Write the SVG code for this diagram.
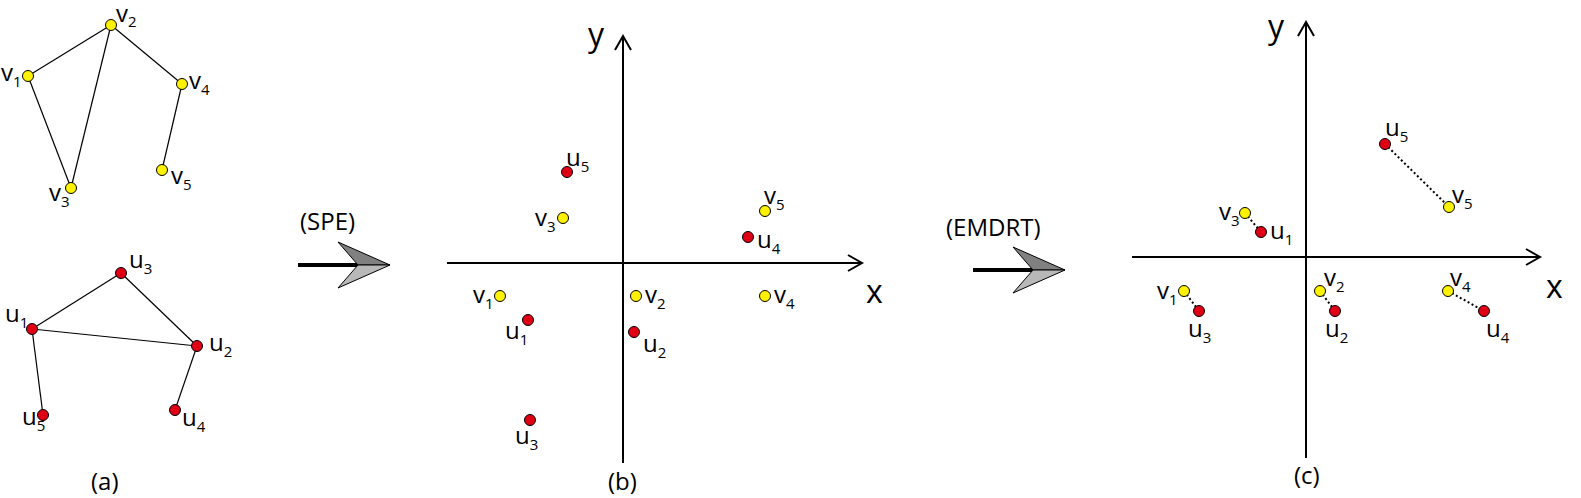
<svg xmlns="http://www.w3.org/2000/svg" width="1581" height="498" viewBox="0 0 1581 498">
<style>
.y{fill:#fff200;stroke:#000;stroke-width:1}
.r{fill:#e00016;stroke:#000;stroke-width:1}
.e{stroke:#000;stroke-width:1.2;fill:none}
.d{stroke:#000;stroke-width:2;stroke-dasharray:2 2.5;fill:none}
.ax{stroke:#000;stroke-width:2;fill:none}
text{font-family:"Open Sans","Liberation Sans",sans-serif;font-size:24px;fill:#000}
.s{font-size:15px}
.big{font-size:32px}
</style>
<defs>
<g id="arr">
<line x1="0" y1="0" x2="60" y2="0" stroke="#000" stroke-width="4"/>
<polygon points="40,-23 92,0 60,0" fill="#808080" stroke="#000" stroke-width="1"/>
<polygon points="40,23 92,0 60,0" fill="#b8b8b8" stroke="#000" stroke-width="1"/>
</g>
</defs>
<g id="connectors">
<line class="e" x1="111" y1="25" x2="28" y2="76"/>
<line class="e" x1="111" y1="25" x2="182" y2="84"/>
<line class="e" x1="111" y1="25" x2="71" y2="188"/>
<line class="e" x1="28" y1="76" x2="71" y2="188"/>
<line class="e" x1="182" y1="84" x2="162" y2="170"/>
<line class="e" x1="121" y1="273" x2="32" y2="329"/>
<line class="e" x1="121" y1="273" x2="197" y2="346"/>
<line class="e" x1="32" y1="329" x2="197" y2="346"/>
<line class="e" x1="32" y1="329" x2="43" y2="415"/>
<line class="e" x1="197" y1="346" x2="175" y2="410"/>
<use href="#arr" x="298" y="265"/>
<use href="#arr" x="973" y="270"/>
<line class="ax" x1="623" y1="463" x2="623" y2="36"/>
<polyline class="ax" points="615,50 623,36 631,50"/>
<line class="ax" x1="447" y1="263" x2="862" y2="263"/>
<polyline class="ax" points="848,255 862,263 848,271"/>
<line class="ax" x1="1306" y1="458" x2="1306" y2="22"/>
<polyline class="ax" points="1298,36 1306,22 1314,36"/>
<line class="ax" x1="1132" y1="257" x2="1540" y2="257"/>
<polyline class="ax" points="1526,249 1540,257 1526,265"/>
<line class="d" x1="1385" y1="144" x2="1449" y2="207"/>
<line class="d" x1="1245" y1="213" x2="1261" y2="232"/>
<line class="d" x1="1184" y1="291" x2="1199" y2="311"/>
<line class="d" x1="1320" y1="291" x2="1335" y2="311"/>
<line class="d" x1="1448" y1="291" x2="1484" y2="311"/>
</g>
<g id="a-v">
<circle class="y" cx="111" cy="25" r="5.5"/><text x="116" y="22">v<tspan class="s" dy="5">2</tspan></text>
<circle class="y" cx="28" cy="76" r="5.5"/><text x="1" y="81">v<tspan class="s" dy="6">1</tspan></text>
<circle class="y" cx="182" cy="84" r="5.5"/><text x="189" y="89">v<tspan class="s" dy="6">4</tspan></text>
<circle class="y" cx="71" cy="188" r="5.5"/><text x="49" y="201">v<tspan class="s" dy="6">3</tspan></text>
<circle class="y" cx="162" cy="170" r="5.5"/><text x="171" y="184">v<tspan class="s" dy="6">5</tspan></text>
</g>
<g id="a-u">
<circle class="r" cx="121" cy="273" r="5.5"/><text x="129" y="268">u<tspan class="s" dy="6">3</tspan></text>
<circle class="r" cx="32" cy="329" r="5.5"/><text x="5" y="322">u<tspan class="s" dy="6">1</tspan></text>
<circle class="r" cx="197" cy="346" r="5.5"/><text x="209" y="351">u<tspan class="s" dy="6">2</tspan></text>
<circle class="r" cx="43" cy="415" r="5.5"/><text x="22" y="425">u<tspan class="s" dy="6">5</tspan></text>
<circle class="r" cx="175" cy="410" r="5.5"/><text x="182" y="426">u<tspan class="s" dy="6">4</tspan></text>
<text x="91" y="490">(a)</text>
<text x="300" y="230">(SPE)</text>
</g>
<g id="b">
<text x="588" y="46" class="big">y</text>
<text x="866" y="303" class="big">x</text>
<circle class="r" cx="567" cy="172" r="5.5"/><text x="566" y="166">u<tspan class="s" dy="6">5</tspan></text>
<circle class="y" cx="563" cy="218" r="5.5"/><text x="535" y="226">v<tspan class="s" dy="6">3</tspan></text>
<circle class="y" cx="765" cy="211" r="5.5"/><text x="764" y="204">v<tspan class="s" dy="6">5</tspan></text>
<circle class="r" cx="748" cy="237" r="5.5"/><text x="757" y="248">u<tspan class="s" dy="6">4</tspan></text>
<circle class="y" cx="500" cy="296" r="5.5"/><text x="473" y="303">v<tspan class="s" dy="6">1</tspan></text>
<circle class="y" cx="636" cy="296" r="5.5"/><text x="645" y="303">v<tspan class="s" dy="6">2</tspan></text>
<circle class="y" cx="765" cy="296" r="5.5"/><text x="774" y="303">v<tspan class="s" dy="6">4</tspan></text>
<circle class="r" cx="528" cy="320" r="5.5"/><text x="505" y="339">u<tspan class="s" dy="6">1</tspan></text>
<circle class="r" cx="634" cy="332" r="5.5"/><text x="643" y="352">u<tspan class="s" dy="6">2</tspan></text>
<circle class="r" cx="530" cy="420" r="5.5"/><text x="515" y="444">u<tspan class="s" dy="6">3</tspan></text>
<text x="608" y="490">(b)</text>
<text x="946" y="236">(EMDRT)</text>
</g>
<g id="c">
<text x="1268" y="38" class="big">y</text>
<text x="1546" y="298" class="big">x</text>
<circle class="r" cx="1385" cy="144" r="5.5"/><text x="1385" y="136">u<tspan class="s" dy="6">5</tspan></text>
<circle class="y" cx="1449" cy="207" r="5.5"/><text x="1452" y="203">v<tspan class="s" dy="6">5</tspan></text>
<circle class="y" cx="1245" cy="213" r="5.5"/><text x="1219" y="220">v<tspan class="s" dy="6">3</tspan></text>
<circle class="r" cx="1261" cy="232" r="5.5"/><text x="1270" y="239">u<tspan class="s" dy="6">1</tspan></text>
<circle class="y" cx="1184" cy="291" r="5.5"/><text x="1157" y="299">v<tspan class="s" dy="6">1</tspan></text>
<circle class="r" cx="1199" cy="311" r="5.5"/><text x="1188" y="337">u<tspan class="s" dy="6">3</tspan></text>
<circle class="y" cx="1320" cy="291" r="5.5"/><text x="1324" y="286">v<tspan class="s" dy="6">2</tspan></text>
<circle class="r" cx="1335" cy="311" r="5.5"/><text x="1325" y="337">u<tspan class="s" dy="6">2</tspan></text>
<circle class="y" cx="1448" cy="291" r="5.5"/><text x="1450" y="286">v<tspan class="s" dy="6">4</tspan></text>
<circle class="r" cx="1484" cy="311" r="5.5"/><text x="1486" y="337">u<tspan class="s" dy="6">4</tspan></text>
<text x="1294" y="484">(c)</text>
</g>
</svg>
